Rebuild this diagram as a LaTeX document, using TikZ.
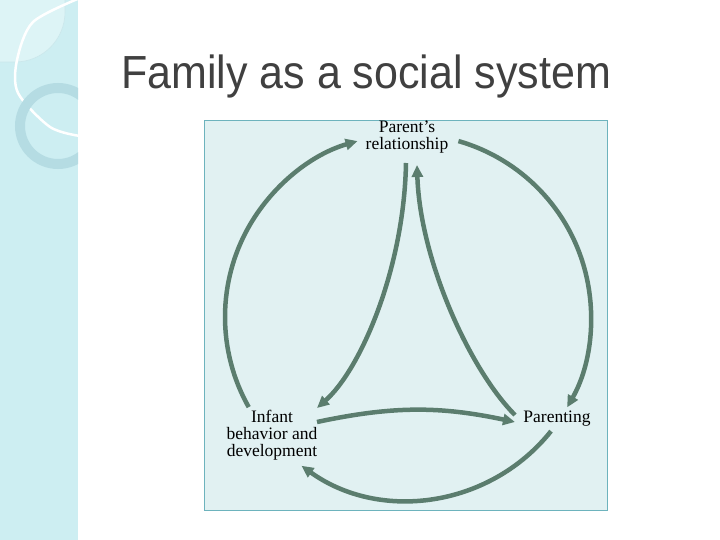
\documentclass[tikz,border=0pt]{standalone}
\usepackage{fontspec}
\setmainfont{Liberation Serif}
\newfontfamily\titlefont{Liberation Sans}
\usetikzlibrary{arrows.meta}
\definecolor{stripe}{HTML}{CDEEF2}
\definecolor{stripelight}{HTML}{DDF4F6}
\definecolor{ringc}{HTML}{B5DCE3}
\definecolor{boxfill}{HTML}{E1F1F2}
\definecolor{boxline}{HTML}{6DB3BD}
\definecolor{arrowc}{HTML}{5B7D6E}
\definecolor{titlec}{HTML}{404040}
\tikzset{
  arr/.style={draw=arrowc, line width=4.5pt, -{Triangle[length=12pt,width=11pt]}},
  lbl/.style={font=\fontsize{17.5}{17}\selectfont, align=center, inner sep=0pt, text=black}
}
\begin{document}
\begin{tikzpicture}[x=1pt,y=-1pt]
\useasboundingbox (0,0) rectangle (720,540);
\fill[white] (0,0) rectangle (720,540);
% left stripe
\begin{scope}
\clip (0,0) rectangle (78,540);
\fill[stripe] (0,0) rectangle (78,540);
\fill[stripelight] (0,0) -- (65,0) -- (65,12) arc[start angle=0,end angle=90,radius=50] -- (0,62) -- cycle;
\draw[ringc!70!white, line width=0.6pt] (65,0) -- (65,12) arc[start angle=0,end angle=90,radius=50] -- (0,62);
\draw[white, line width=2.5pt] plot[smooth] coordinates {(80,-2) (33,22) (17,60) (18,93) (50,127) (80,136)};
\draw[ringc, line width=10pt] (58,126) circle[radius=38];
\end{scope}
% title
\node[anchor=base west, inner sep=0pt, text=titlec, font=\titlefont\fontsize{43}{48}\selectfont, yscale=1.08] (title) at (121,89) {Family as a social system};
% box
\fill[boxfill, draw=boxline, line width=0.8pt] (204.5,120.5) rectangle (607,510);
% nodes
\node[lbl] (par) at (407,137) {Parent's\\relationship};
\node[lbl] (inf) at (272,435) {Infant\\behavior and\\development};
\node[lbl] (pg) at (557,419) {Parenting};
\coordinate (o) at (408,317);
% outer arcs
\draw[arr] ([shift={(150.5:183)}]o) arc[start angle=150.5, end angle=254, radius=183];
\draw[arr] ([shift={(286:183)}]o) arc[start angle=286, end angle=389.6, radius=183];
\draw[arr] ([shift={(38.6:183)}]o) arc[start angle=38.6, end angle=125.6, radius=183];
% inner curves
\draw[arr] ([shift={(-1,26)}]par.center) .. controls +(-2,107) and +(43,-38) .. ([shift={(45,-27)}]inf.center);
\draw[arr] ([shift={(-42,-4)}]pg.center) .. controls +(-45,-45) and +(3,95) .. ([shift={(10,28)}]par.center);
\draw[arr] ([shift={(45,-13)}]inf.center) to[bend left=12] ([shift={(-42,3)}]pg.center);
\end{tikzpicture}
\end{document}
